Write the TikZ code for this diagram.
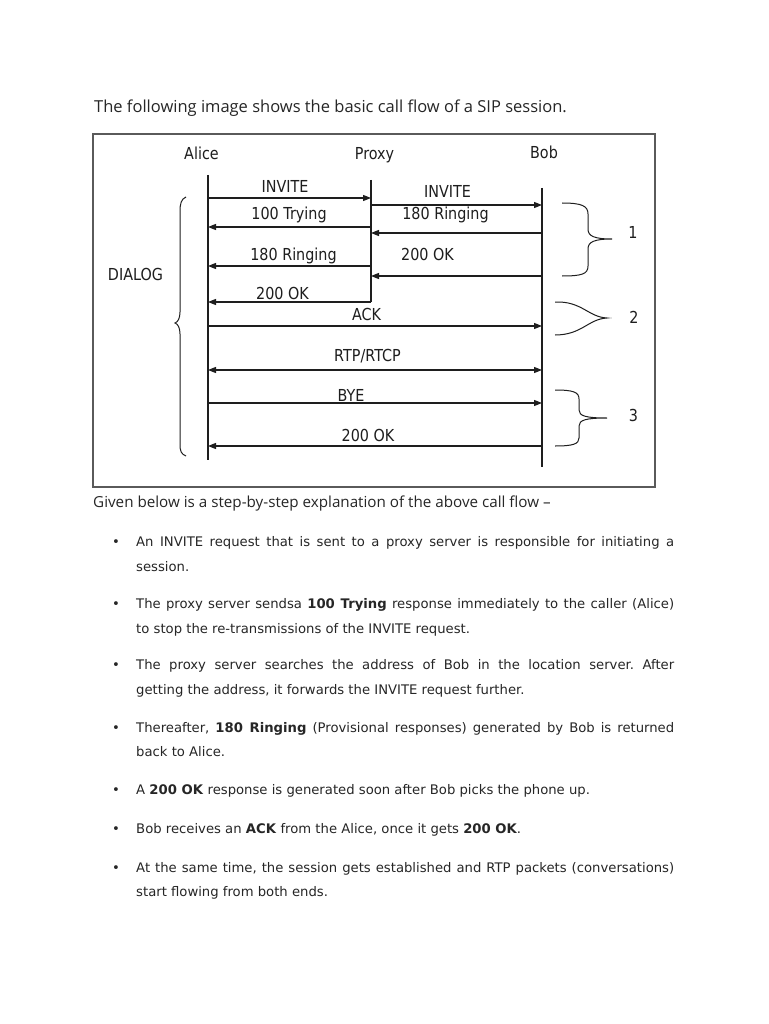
\documentclass[tikz,border=0pt]{standalone}
\usepackage{fontspec}
\setmainfont{DejaVu Sans}
\newfontfamily\titlefont{Open Sans}
\newfontfamily\labfont[FakeStretch=0.87]{DejaVu Sans}
\usetikzlibrary{arrows.meta}
\definecolor{txt}{HTML}{262626}
\definecolor{ink}{HTML}{1E1E1E}
\definecolor{framec}{HTML}{5A5A5A}
\frenchspacing
\begin{document}
\begin{tikzpicture}[x=1pt,y=-1pt,
  lab/.style={font=\labfont\fontsize{16.5}{19}\selectfont, text=ink, inner sep=0pt, anchor=base},
  lifeline/.style={draw=ink, line width=1.1pt},
  msg/.style={draw=ink, line width=1.1pt, -{Triangle[length=8pt,width=6pt]}},
  msgboth/.style={draw=ink, line width=1.1pt, {Triangle[length=8pt,width=6pt]}-{Triangle[length=8pt,width=6pt]}},
  brc/.style={draw=ink, line width=1pt},
  body/.style={font=\fontsize{13.2}{16}\selectfont, text=txt, inner sep=0pt, anchor=base west},
  head/.style={font=\titlefont, text=txt, inner sep=0pt, anchor=base west},
  bul/.style={font=\fontsize{13.2}{16}\selectfont, text=txt, inner sep=0pt, anchor=base}]
\useasboundingbox[fill=white] (0,0) rectangle (768,1024);

% title
\node[head, font=\titlefont\fontsize{16.5}{20}\selectfont] (title) at (94,113) {The following image shows the basic call flow of a SIP session.};

% frame
\draw[draw=framec, line width=1.3pt] (93,134) rectangle (655,487);

% participants
\node[lab] (alice) at (201.5,160) {Alice};
\node[lab] (proxy) at (374.5,160) {Proxy};
\node[lab] (bob) at (544,159) {Bob};

% lifelines
\coordinate (Atop) at (208,175); \coordinate (Abot) at (208,460);
\coordinate (Ptop) at (371,180); \coordinate (Pbot) at (371,302);
\coordinate (Btop) at (542,188); \coordinate (Bbot) at (542,467);
\draw[lifeline] (Atop) -- (Abot);
\draw[lifeline] (Ptop) -- (Pbot);
\draw[lifeline] (Btop) -- (Bbot);

% message levels
\coordinate (m1) at (0,198);
\coordinate (m2) at (0,205);
\coordinate (m3) at (0,227);
\coordinate (m4) at (0,233);
\coordinate (m5) at (0,266);
\coordinate (m6) at (0,276);
\coordinate (m7) at (0,302);
\coordinate (m8) at (0,326);
\coordinate (m9) at (0,370);
\coordinate (m10) at (0,403);
\coordinate (m11) at (0,446);

\draw[msg] (Atop |- m1) -- (Ptop |- m1);
\draw[msg] (Ptop |- m2) -- (Btop |- m2);
\draw[msg] (Ptop |- m3) -- (Atop |- m3);
\draw[msg] (Btop |- m4) -- (Ptop |- m4);
\draw[msg] (Ptop |- m5) -- (Atop |- m5);
\draw[msg] (Btop |- m6) -- (Ptop |- m6);
\draw[msg] (Pbot |- m7) -- (Atop |- m7);
\draw[msg] (Atop |- m8) -- (Btop |- m8);
\draw[msgboth] (Atop |- m9) -- (Btop |- m9);
\draw[msg] (Atop |- m10) -- (Btop |- m10);
\draw[msg] (Btop |- m11) -- (Atop |- m11);

% message labels
\node[lab] (l1) at (285,193) {INVITE};
\node[lab] (l2) at (447.5,198) {INVITE};
\node[lab] (l3) at (289,220) {100 Trying};
\node[lab] (l4) at (445.5,219) {180 Ringing};
\node[lab] (l5) at (293.5,260.5) {180 Ringing};
\node[lab] (l6) at (427.5,260) {200 OK};
\node[lab] (l7) at (282.5,299) {200 OK};
\node[lab] (l8) at (366.5,320) {ACK};
\node[lab] (l9) at (367.5,361) {RTP/RTCP};
\node[lab] (l10) at (351,401) {BYE};
\node[lab] (l11) at (368,441) {200 OK};

% dialog brace
\draw[brc] (186,197) .. controls (181,199) and (180,204) .. (180,212) -- (180,312)
  .. controls (180,318) and (178,322) .. (175,323)
  .. controls (178,324) and (180,328) .. (180,334) -- (180,444)
  .. controls (180,451) and (181,454) .. (186,456);
\node[lab] (dialog) at (135.5,280) {DIALOG};

% right braces
\draw[brc] (562,203) .. controls (582,203) and (588,206) .. (588,214) -- (588,229)
  .. controls (588,236) and (594,239) .. (612,239)
  .. controls (594,239) and (588,242) .. (588,249) -- (588,266)
  .. controls (588,274) and (582,276) .. (562,276);
\node[lab] (n1) at (633,239) {1};

\draw[brc] (555,302) .. controls (582,301) and (588,317) .. (607,318)
  .. controls (588,319) and (582,335) .. (555,335);
\node[lab] (n2) at (634,323) {2};

\draw[brc] (555,390) .. controls (573,390) and (579,392) .. (579,399) -- (579,410)
  .. controls (579,416) and (586,418) .. (607,418)
  .. controls (586,418) and (579,420) .. (579,426) -- (579,438)
  .. controls (579,444) and (573,446) .. (555,446);
\node[lab] (n3) at (633.5,421) {3};

% explanation
\node[head, font=\titlefont\fontsize{15.2}{19}\selectfont] (given) at (93,507) {Given below is a step-by-step explanation of the above call flow –};

\node[bul] (d1) at (116,546) {•};
\node[body] (b1a) at (136,546) {\makebox[538pt][s]{An INVITE request that is sent to a proxy server is responsible for initiating a}};
\node[body] (b1b) at (136,571) {session.};

\node[bul] (d2) at (116,608) {•};
\node[body] (b2a) at (136,608) {\makebox[538pt][s]{The proxy server sendsa \textbf{100 Trying} response immediately to the caller (Alice)}};
\node[body] (b2b) at (136,633) {to stop the re-transmissions of the INVITE request.};

\node[bul] (d3) at (116,669) {•};
\node[body] (b3a) at (136,669) {\makebox[538pt][s]{The proxy server searches the address of Bob in the location server. After}};
\node[body] (b3b) at (136,694) {getting the address, it forwards the INVITE request further.};

\node[bul] (d4) at (116,732) {•};
\node[body] (b4a) at (136,732) {\makebox[538pt][s]{Thereafter, \textbf{180 Ringing} (Provisional responses) generated by Bob is returned}};
\node[body] (b4b) at (136,756) {back to Alice.};

\node[bul] (d5) at (116,794) {•};
\node[body] (b5a) at (136,794) {A \textbf{200 OK} response is generated soon after Bob picks the phone up.};

\node[bul] (d6) at (116,833) {•};
\node[body] (b6a) at (136,833) {Bob receives an \textbf{ACK} from the Alice, once it gets \textbf{200 OK}.};

\node[bul] (d7) at (116,872) {•};
\node[body] (b7a) at (136,872) {\makebox[538pt][s]{At the same time, the session gets established and RTP packets (conversations)}};
\node[body] (b7b) at (136,896) {start flowing from both ends.};
\end{tikzpicture}
\end{document}
